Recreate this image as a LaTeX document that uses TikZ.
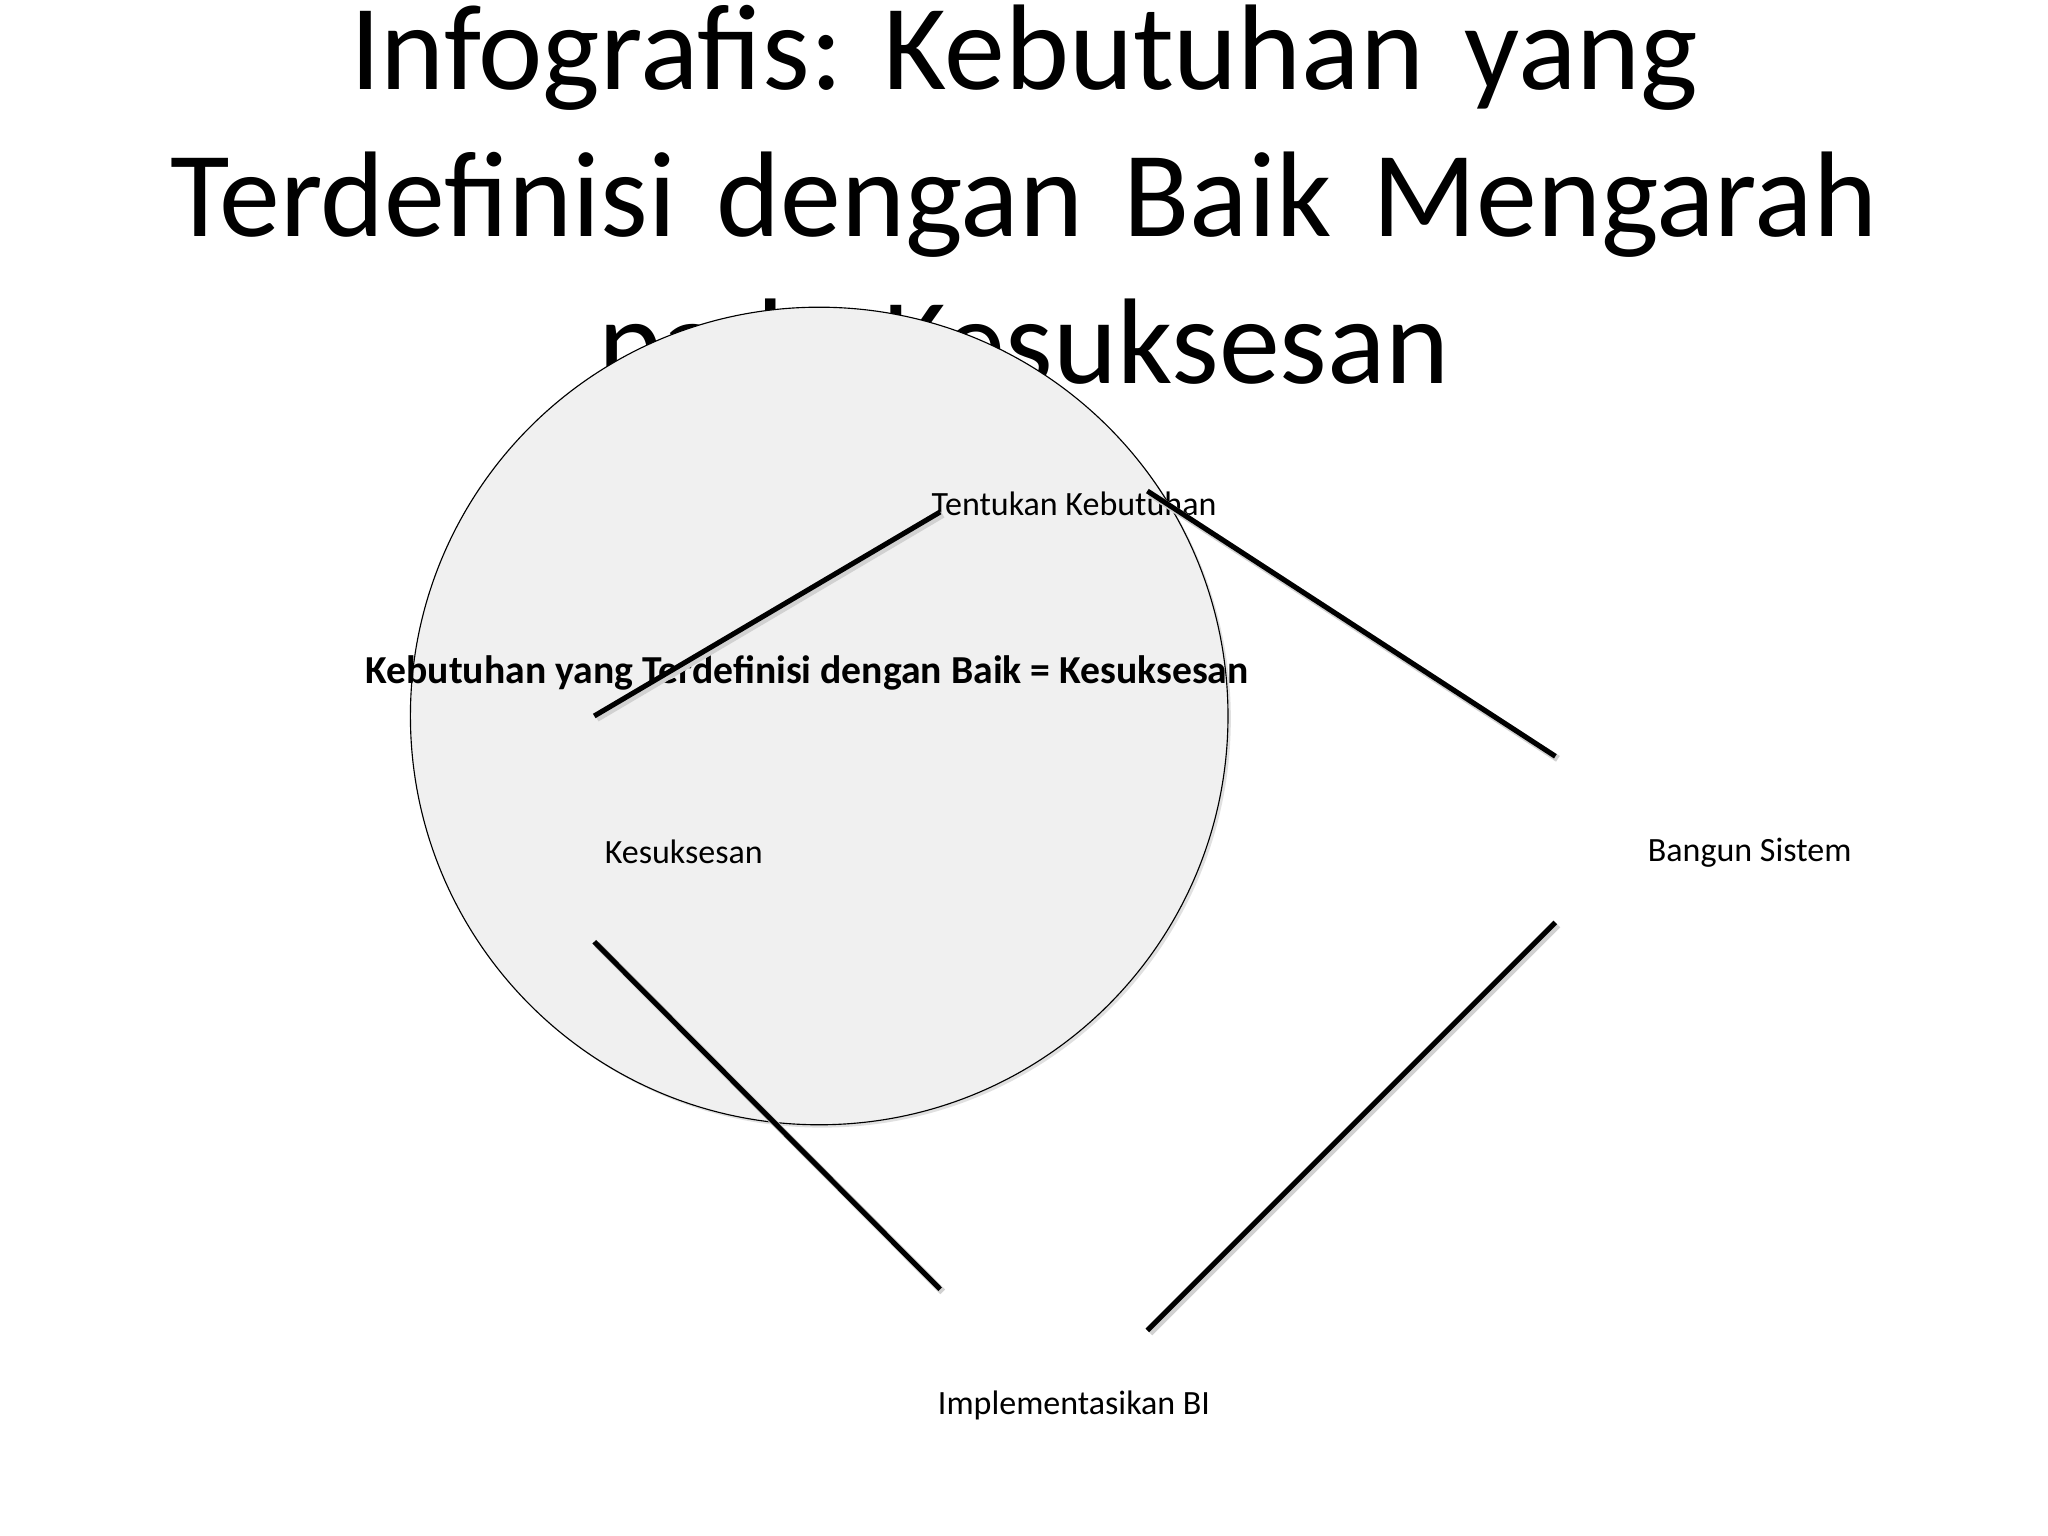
\documentclass[tikz,border=0pt]{standalone}
\usepackage{fontspec}
\setmainfont{Carlito}
\usetikzlibrary{positioning}
\frenchspacing

\tikzset{
	label/.style={inner sep=0pt, font=\fontsize{12}{14}\selectfont},
	conn/.style={line width=1.8pt, black, preaction={draw=black!18, line width=2.4pt, transform canvas={xshift=0.9pt, yshift=-0.9pt}}}
}

\begin{document}
\begin{tikzpicture}

\useasboundingbox (0, 0) rectangle (25.4, 19.05);

\node (title) at (12.7, 16.52) [align=center, text width=24cm, font=\fontsize{43}{52}\selectfont] {Infografis: Kebutuhan yang\\Terdefinisi dengan Baik Mengarah\\pada Kesuksesan};

\node (hub) at (10.16, 10.17) [circle, draw=black, thin, fill=black!6, minimum size=10.14cm, preaction={fill=black!12, transform canvas={xshift=1pt, yshift=-1pt}}] {};

\node (need) at (13.32, 12.80) [label] {Tentukan Kebutuhan};
\node (build) at (21.70, 8.48) [label] {Bangun Sistem};
\node (impl) at (13.32, 1.62) [label] {Implementasikan BI};
\node (succ) at (8.48, 8.48) [label] {Kesuksesan};
\node (main) at (10.01, 10.70) [label, font=\fontsize{14}{17}\selectfont\bfseries] {Kebutuhan yang Terdefinisi dengan Baik = Kesuksesan};

\coordinate (a1) at (7.37, 10.17);
\coordinate (a2) at (11.66, 12.70);
\coordinate (b1) at (14.23, 12.96);
\coordinate (b2) at (19.29, 9.67);
\coordinate (c1) at (19.29, 7.61);
\coordinate (c2) at (14.23, 2.55);
\coordinate (d1) at (7.37, 7.37);
\coordinate (d2) at (11.66, 3.06);

\draw[conn] (a1) -- (a2);
\draw[conn] (b1) -- (b2);
\draw[conn] (c1) -- (c2);
\draw[conn] (d1) -- (d2);

\end{tikzpicture}
\end{document}
